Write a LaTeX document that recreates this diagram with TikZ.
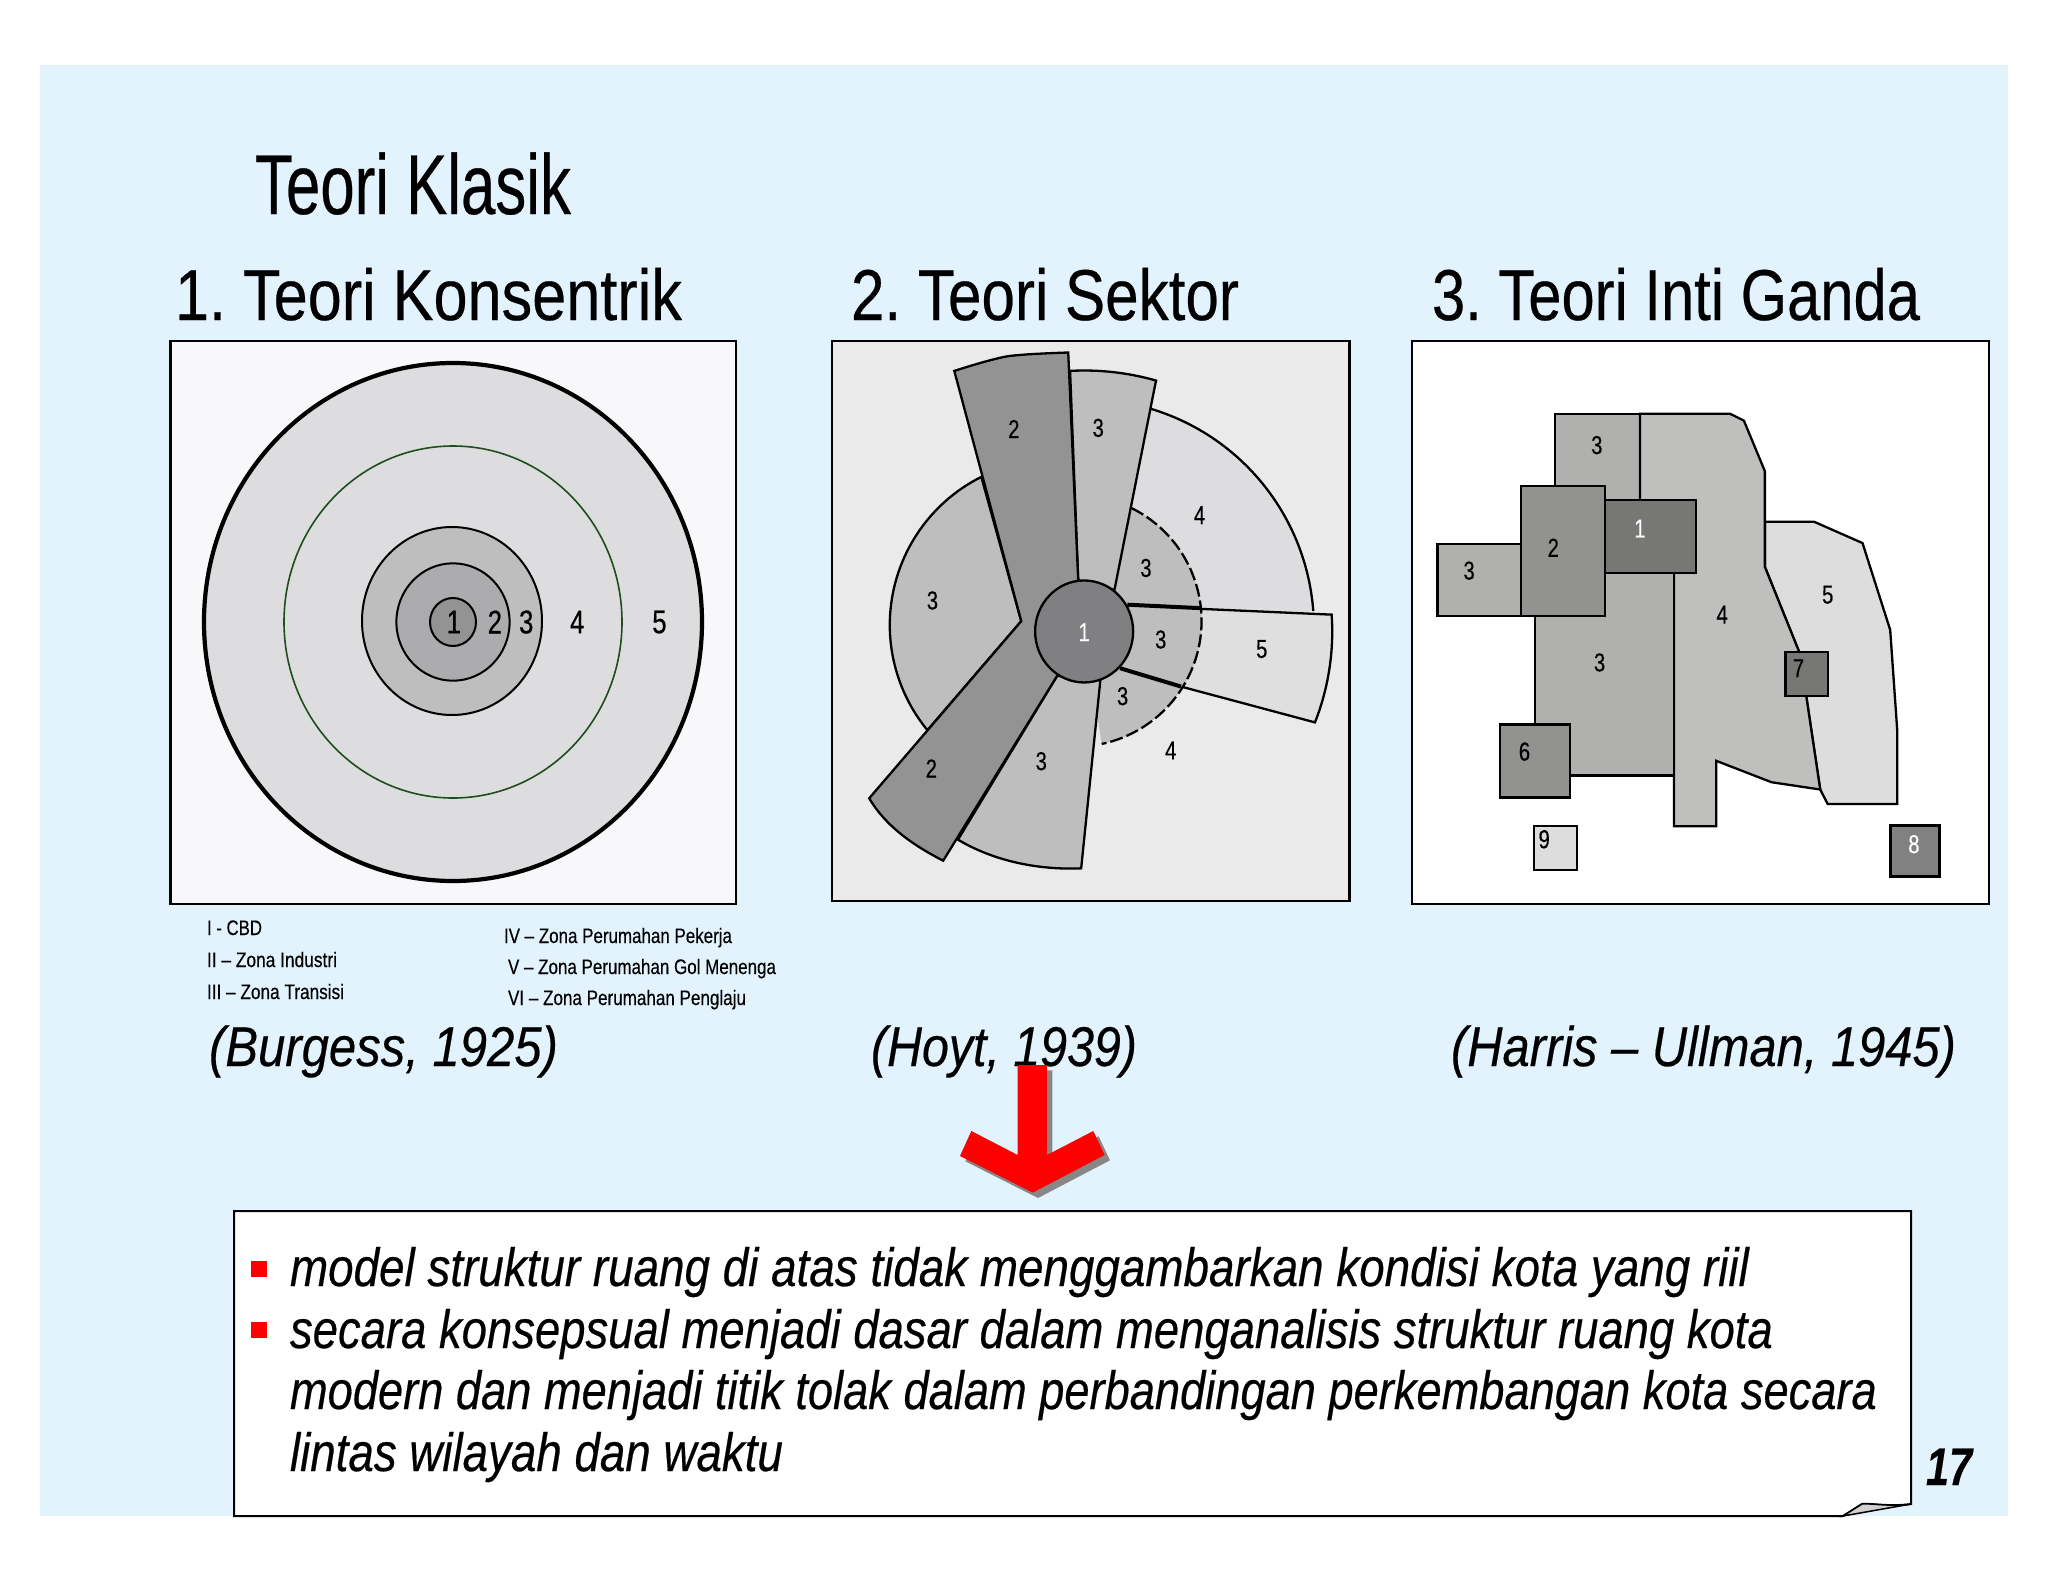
\documentclass[tikz,border=0pt]{standalone}
\usepackage{fontspec}
\usepackage{graphicx}
\setmainfont{Liberation Sans}[FakeBold=0.4]
\newfontfamily\nrw[FakeStretch=0.78,FakeBold=0.4]{Liberation Sans}
\newcommand\fs[1]{\fontsize{#1}{#1}\selectfont}
\newcommand\fitw[2]{\resizebox{#1pt}{\height}{\frenchspacing #2}}
\definecolor{bgblue}{HTML}{E3F3FE}
\definecolor{hoytbg}{HTML}{EAEAEB}
\definecolor{burgbg}{HTML}{F8F8FB}
\definecolor{gA}{HTML}{DDDCDE}
\definecolor{gB}{HTML}{BFBEBF}
\definecolor{gC}{HTML}{949394}
\definecolor{gD}{HTML}{807F81}
\definecolor{gE}{HTML}{DFDFE0}
\definecolor{gF}{HTML}{ACABAD}
\definecolor{hA}{HTML}{B0B1AF}
\definecolor{hB}{HTML}{BFC0BE}
\definecolor{hC}{HTML}{DCDDDC}
\definecolor{hD}{HTML}{929391}
\definecolor{hE}{HTML}{777876}
\definecolor{hF}{HTML}{808180}
\definecolor{ringgreen}{HTML}{1E4D1E}
\tikzset{
  ln/.style={draw=black,line width=2.3pt,line join=miter},
  tb/.style={anchor=base west,inner sep=0pt,outer sep=0pt},
  dg/.style={inner sep=0pt,outer sep=0pt,font=\nrw\fs{26}},
  dgb/.style={inner sep=0pt,outer sep=0pt,font=\nrw\fs{33}},
  headtxt/.style={tb,font=\fs{72}},
  captxt/.style={tb,font=\itshape\fs{56}},
  legtxt/.style={tb,font=\fs{21}},
  bodytxt/.style={tb,font=\itshape\fs{54}},
  bul/.style={fill=red,draw=none}
}
\begin{document}
\begin{tikzpicture}[x=1pt,y=-1pt]
\useasboundingbox (0,0) rectangle (2048,1582);
\fill[white] (0,0) rectangle (2048,1582);
\fill[bgblue] (40,65) rectangle (2008,1516);

% Title and headings
\node[tb,font=\fs{85}] (title) at (255,214) {\fitw{316}{Teori Klasik}};
\node[headtxt] (h1) at (175,320) {\fitw{507}{1. Teori Konsentrik}};
\node[headtxt] (h2) at (851,320) {\fitw{388}{2. Teori Sektor}};
\node[headtxt] (h3) at (1432,320) {\fitw{488}{3. Teori Inti Ganda}};

% Burgess
\draw[ln,fill=burgbg] (170.5,341) rectangle (736,904);
\draw[draw=black,line width=4.2pt,fill=gA] (453,622) circle[x radius=249pt,y radius=259pt];
\draw[draw=ringgreen,line width=1.6pt,fill=gA] (453,622) circle[x radius=169pt,y radius=176pt];
\draw[draw=black,line width=2pt,fill=gB] (452,621) circle[x radius=90pt,y radius=94pt];
\draw[draw=black,line width=2pt,fill=gF] (453,622) circle[x radius=56.6pt,y radius=58.7pt];
\draw[draw=black,line width=2pt,fill=gC] (453,622) circle[x radius=23pt,y radius=24pt];
\begin{scope}[shift={(160,330)},x=0.3827pt,y=-0.3827pt]
\node[dgb] (b1) at (768,763) {1};
\node[dgb] (b2) at (875,763) {2};
\node[dgb] (b3) at (957,763) {3};
\node[dgb] (b4) at (1090,763) {4};
\node[dgb] (b5) at (1305,763) {5};
\end{scope}

% Legend
\node[legtxt] (l1) at (207,935) {\fitw{55}{I - CBD}};
\node[legtxt] (l2) at (207,967) {\fitw{130}{II – Zona Industri}};
\node[legtxt] (l3) at (207,999) {\fitw{137}{III – Zona Transisi}};
\node[legtxt] (l4) at (504,943) {\fitw{228}{IV – Zona Perumahan Pekerja}};
\node[legtxt] (l5) at (508,974) {\fitw{268}{V – Zona Perumahan Gol Menenga}};
\node[legtxt] (l6) at (508,1005) {\fitw{238}{VI – Zona Perumahan Penglaju}};

% Hoyt
\begin{scope}[shift={(800,320)},x=0.36996pt,y=-0.38265pt]
\draw[ln,fill=hoytbg] (87,55) rectangle (1485,1518);
% 4 upper right
\fill[gA] (948,232) arc[start angle=73.3,end angle=4.3,radius=229pt] -- (768,814) -- cycle;
\draw[ln] (948,232) arc[start angle=73.3,end angle=4.3,radius=229pt];
% 5
\draw[ln,fill=gE] (1437,770) arc[start angle=3.9,end angle=-21.5,radius=248pt] -- (1030,958) -- (1085,755) -- cycle;
% inner 3
\fill[gB] (897,492) arc[start angle=63.5,end angle=-78.1,radius=125.8pt] -- (768,814) -- cycle;
\draw[black,line width=2.3pt,dash pattern=on 13pt off 4pt] (897,492) arc[start angle=63.5,end angle=-78.1,radius=125.8pt];
\draw[black,line width=4pt] (885,744) -- (1082,753);
\draw[black,line width=4pt] (865,910) -- (1030,958);
% 3 left
\draw[ln,fill=gB] (490,410) arc[start angle=116.6,end angle=219.4,radius=165.7pt] -- (598,787) -- cycle;
% 3 top
\draw[ln,fill=gB] (730,133) arc[start angle=93.1,end angle=74.1,radius=262pt] -- (850,705) -- (752,680) -- cycle;
% 3 bottom
\draw[ln,fill=gB] (427,1358) .. controls (520,1412) and (640,1438) .. (760,1433) -- (812,940) -- (695,930) -- cycle;
% 2
\draw[ln,fill=gC] plot[smooth] coordinates {(417,133)(560,95)(725,85)} -- (752,680) -- (768,814) -- (695,930) -- (387,1413) .. controls (300,1370) and (230,1320) .. (187,1250) -- (598,787) -- cycle;
% centre
\draw[ln,fill=gD] (768,814) circle[x radius=49pt,y radius=51pt];
\node[dg] (s1) at (578,285) {2};
\node[dg] (s2) at (806,282) {3};
\node[dg] (s3) at (1080,510) {4};
\node[dg] (s4) at (935,648) {3};
\node[dg] (s5) at (975,835) {3};
\node[dg] (s6) at (1248,860) {5};
\node[dg,text=white] (s7) at (768,816) {1};
\node[dg] (s8) at (358,733) {3};
\node[dg] (s9) at (872,983) {3};
\node[dg] (s10) at (1002,1125) {4};
\node[dg] (s11) at (355,1172) {2};
\node[dg] (s12) at (652,1153) {3};
\end{scope}

% Harris-Ullman
\begin{scope}[shift={(1390,320)},x=0.3954pt,y=-0.38265pt]
\draw[ln,fill=white] (55,55) rectangle (1515,1527);
\draw[ln,fill=hA] (418,245) rectangle (632,470);
\draw[ln,fill=hC] (948,527) -- (1072,527) -- (1195,583) -- (1265,810) -- (1283,1075) -- (1283,1265) -- (1107,1265) -- (1088,1227) -- (1053,985) -- (1035,868) -- (948,645) -- cycle;
\draw[ln,fill=hB] (632,245) -- (860,245) -- (895,263) -- (948,395) -- (948,645) -- (1035,868) -- (1053,985) -- (1088,1227) -- (965,1208) -- (825,1152) -- (825,1323) -- (718,1323) -- (718,660) -- (632,660) -- cycle;
\draw[ln,fill=hA] (367,660) rectangle (718,1190);
\draw[ln,fill=hA] (120,586) rectangle (331,773);
\draw[ln,fill=hD] (331,433) rectangle (544,773);
\draw[ln,fill=hE] (544,470) rectangle (773,661);
\draw[ln,fill=hD] (278,1057) rectangle (456,1248);
\draw[ln,fill=hE] (1000,868) rectangle (1107,983);
\draw[ln,fill=hF,line width=2.8pt] (1265,1322) rectangle (1390,1455);
\draw[ln,fill=hC] (365,1322) rectangle (473,1437);
\node[dg] (u1) at (523,327) {3};
\node[dg] (u2) at (200,655) {3};
\node[dg] (u3) at (413,595) {2};
\node[dg,text=white] (u4) at (632,545) {1};
\node[dg] (u5) at (840,770) {4};
\node[dg] (u6) at (1107,718) {5};
\node[dg] (u7) at (530,895) {3};
\node[dg] (u8) at (340,1128) {6};
\node[dg] (u9) at (1033,910) {7};
\node[dg] (u10) at (390,1357) {9};
\node[dg,text=white] (u11) at (1325,1370) {8};
\end{scope}

% Captions
\node[captxt] (c1) at (209,1066) {\fitw{349}{(Burgess, 1925)}};
\node[captxt] (c2) at (871,1066) {\fitw{266}{(Hoyt, 1939)}};
\node[captxt] (c3) at (1451,1066) {\fitw{505}{(Harris – Ullman, 1945)}};

% Arrow
\begin{scope}[shift={(900,1040)},x=0.3333pt,y=-0.3333pt]
\fill[black!47] (369,91) -- (457,91) -- (457,361) -- (596,289) -- (630,361) -- (414,474) -- (196,364) -- (230,289) -- (369,361) -- cycle;
\fill[red] (353,75) -- (441,75) -- (441,345) -- (580,273) -- (614,345) -- (398,458) -- (180,348) -- (214,273) -- (353,345) -- cycle;
\end{scope}

% Note box
\draw[draw=black,line width=2pt,fill=white] (234,1211) -- (1911,1211) -- (1911,1504) .. controls (1890,1507) and (1870,1503) .. (1862,1504) -- (1843,1516) -- (234,1516) -- cycle;
\draw[draw=black,line width=1.5pt,fill=black!18] (1843,1516) -- (1862,1504) .. controls (1870,1503) and (1890,1507) .. (1911,1504) -- cycle;
\fill[bul] (251,1261) rectangle (267,1277);
\fill[bul] (251,1322) rectangle (267,1338);
\node[bodytxt] (n1) at (290,1286) {\fitw{1459}{model struktur ruang di atas tidak menggambarkan kondisi kota yang riil}};
\node[bodytxt] (n2) at (290,1348) {\fitw{1483}{secara konsepsual menjadi dasar dalam menganalisis struktur ruang kota}};
\node[bodytxt] (n3) at (290,1409) {\fitw{1587}{modern dan menjadi titik tolak dalam perbandingan perkembangan kota secara}};
\node[bodytxt] (n4) at (290,1471) {\fitw{493}{lintas wilayah dan waktu}};

\node[tb,font=\bfseries\itshape\fs{53}] (pg) at (1926,1485) {\fitw{46}{17}};
\end{tikzpicture}
\end{document}
